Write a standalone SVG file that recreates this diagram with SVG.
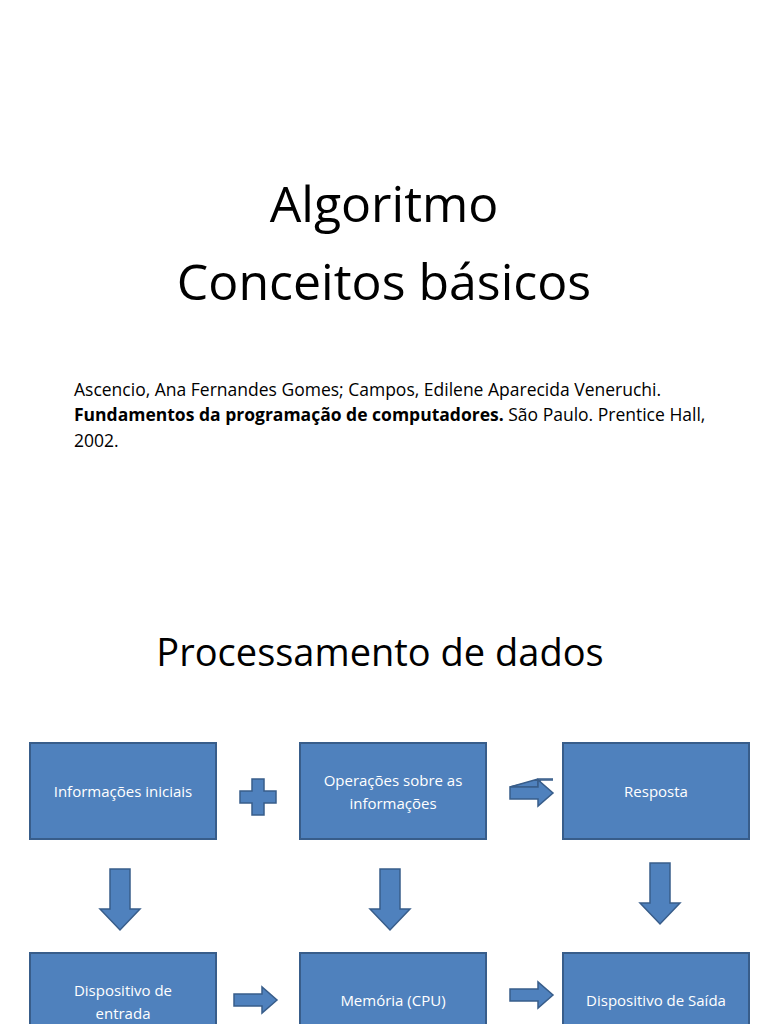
<svg xmlns="http://www.w3.org/2000/svg" width="768" height="1024" viewBox="0 0 768 1024">
<style>
.t{font-family:"Open Sans","Liberation Sans",sans-serif;fill:#000}
.b{fill:#4f81bd;stroke:#385d8a;stroke-width:2}
.l{font-family:"Open Sans","Liberation Sans",sans-serif;fill:#fff;font-size:15px;text-anchor:middle}
.a{fill:#4f81bd;stroke:#385d8a;stroke-width:1.5}
</style>
<rect width="768" height="1024" fill="#fff"/>
<text class="t" x="384" y="222" font-size="50" text-anchor="middle">Algoritmo</text>
<text class="t" x="384" y="300" font-size="50" text-anchor="middle">Conceitos básicos</text>
<text class="t" font-size="17.5"><tspan x="74" y="396">Ascencio, Ana Fernandes Gomes; Campos, Edilene Aparecida Veneruchi.</tspan><tspan x="74" y="421"><tspan font-weight="bold">Fundamentos da programação de computadores.</tspan> São Paulo. Prentice Hall,</tspan><tspan x="74" y="447">2002.</tspan></text>
<text class="t" x="380" y="666" font-size="38" text-anchor="middle">Processamento de dados</text>
<g id="n1"><rect class="b" x="30" y="743" width="186" height="96"/><text class="l" x="123" y="797">Informações iniciais</text></g>
<g id="n2"><rect class="b" x="300" y="743" width="186" height="96"/><text class="l" x="393" y="786">Operações sobre as</text><text class="l" x="393" y="809">informações</text></g>
<g id="n3"><rect class="b" x="563" y="743" width="186" height="96"/><text class="l" x="656" y="797">Resposta</text></g>
<g id="n4"><rect class="b" x="30" y="953" width="186" height="96"/><text class="l" x="123" y="996">Dispositivo de</text><text class="l" x="123" y="1019">entrada</text></g>
<g id="n5"><rect class="b" x="300" y="953" width="186" height="96"/><text class="l" x="393" y="1006">Memória (CPU)</text></g>
<g id="n6"><rect class="b" x="563" y="953" width="186" height="96"/><text class="l" x="656" y="1006">Dispositivo de Saída</text></g>
<g id="connectors">
<path class="a" d="M252,779 h12 v12 h12 v12 h-12 v12 h-12 v-12 h-12 v-12 h12 z"/>
<path class="a" d="M510,787 h30 v-7 h13 l-13,0 0,0 z" fill="none" stroke="none"/>
<path class="a" d="M510,787 h28 v-8 h15 l-15,0 z" stroke="none" fill="none"/>
<path class="a" d="M510,787 h28 v-7 l15,13 -15,13 v-7 h-28 z"/>
<path class="a" d="M234,994 h28 v-7 l15,13 -15,13 v-7 h-28 z"/>
<path class="a" d="M510,989 h28 v-7 l15,13 -15,13 v-7 h-28 z"/>
<path class="a" d="M110,869 h20 v40 h10 l-20,21 -20,-21 h10 z"/>
<path class="a" d="M380,869 h20 v40 h10 l-20,21 -20,-21 h10 z"/>
<path class="a" d="M650,863 h20 v40 h10 l-20,21 -20,-21 h10 z"/>
</g>
</svg>
